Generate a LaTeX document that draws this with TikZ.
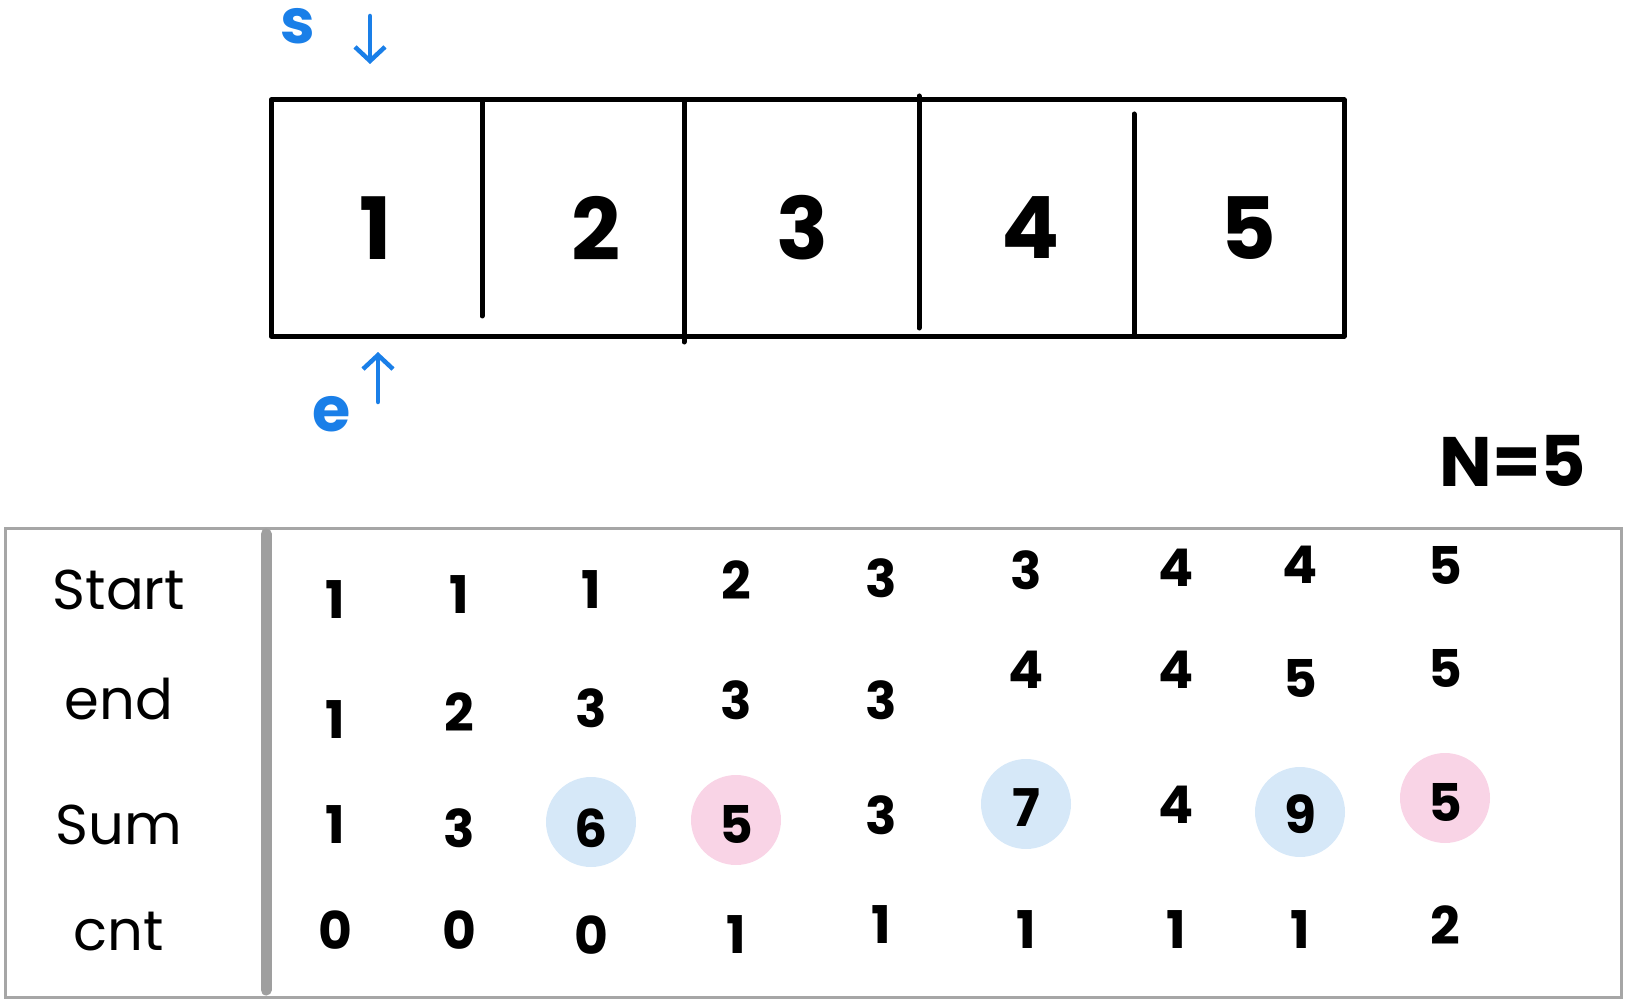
\documentclass[tikz,border=0pt]{standalone}
\usepackage{fontspec}
\setmainfont{Poppins}
\usetikzlibrary{arrows.meta}
\definecolor{hblue}{HTML}{1A7FE8}
\definecolor{lblue}{HTML}{D6E8F8}
\definecolor{lpink}{HTML}{F9D4E6}
\begin{document}
\begin{tikzpicture}[x=1pt,y=-1pt,
  cell/.style={font=\fontsize{86}{86}\selectfont\bfseries},
  val/.style={font=\fontsize{52}{52}\selectfont\bfseries},
  lab/.style={font=\fontsize{56}{56}\selectfont},
  barb/.style={hblue,line width=4.5pt,line cap=round,-{Straight Barb[length=14pt,width=30pt,line width=4.5pt]}},
  blk/.style={line width=5pt,line cap=round,line join=round}]
\useasboundingbox (0,0) rectangle (1625,1000);
% top array
\draw[blk] (271,100) rectangle (1344,336);
\draw[blk] (482,100) -- (482,316);
\draw[blk] (684,100) -- (684,342);
\draw[blk] (919,96) -- (919,328);
\draw[blk] (1134,114) -- (1134,336);
\foreach \x/\t [count=\i] in {376/1,596/2,803/3,1031/4,1248/5}
  \node[cell] (c\i) at (\x,228) {\t};
% s and e
\node[font=\fontsize{62}{62}\selectfont\bfseries,text=hblue] (s) at (298,26) {s};
\coordinate (sa) at (370,16); \coordinate (sb) at (370,64);
\draw[barb] (sa) -- (sb);
\node[font=\fontsize{62}{62}\selectfont\bfseries,text=hblue] (e) at (332,414) {e};
\coordinate (ea) at (378,402); \coordinate (eb) at (378,352);
\draw[barb] (ea) -- (eb);
\node[font=\fontsize{70}{70}\selectfont\bfseries] (N) at (1513,461) {N=5};
% table
\draw[gray!70,line width=3pt] (5,528) rectangle (1621,997);
\draw[gray!75,line width=11pt,line cap=round] (266,534) -- (266,990);
\node[lab] (l1) at (119,590) {Start};
\node[lab] (l2) at (119,699) {end};
\node[lab] (l3) at (119,825) {Sum};
\node[lab] (l4) at (119,932) {cnt};
% highlights
\foreach \x/\y/\c in {591/822/lblue,736/820/lpink,1026/804/lblue,1300/812/lblue,1445/798/lpink}
  \fill[\c] (\x,\y) circle (45);
\foreach \x/\a/\ay/\b/\by/\c/\cy/\d/\dy [count=\i] in {
  335/1/600/1/720/1/825/0/930,
  459/1/595/2/712/3/828/0/930,
  591/1/590/3/708/6/828/0/935,
  736/2/580/3/700/5/824/1/935,
  881/3/578/3/700/3/815/1/925,
  1026/3/570/4/670/7/808/1/930,
  1176/4/568/4/670/4/805/1/930,
  1300/4/565/5/678/9/814/1/930,
  1445/5/565/5/668/5/802/2/925}{
  \node[val] (a\i) at (\x,\ay) {\a};
  \node[val] (b\i) at (\x,\by) {\b};
  \node[val] (d\i) at (\x,\cy) {\c};
  \node[val] (n\i) at (\x,\dy) {\d};
}
\end{tikzpicture}
\end{document}
